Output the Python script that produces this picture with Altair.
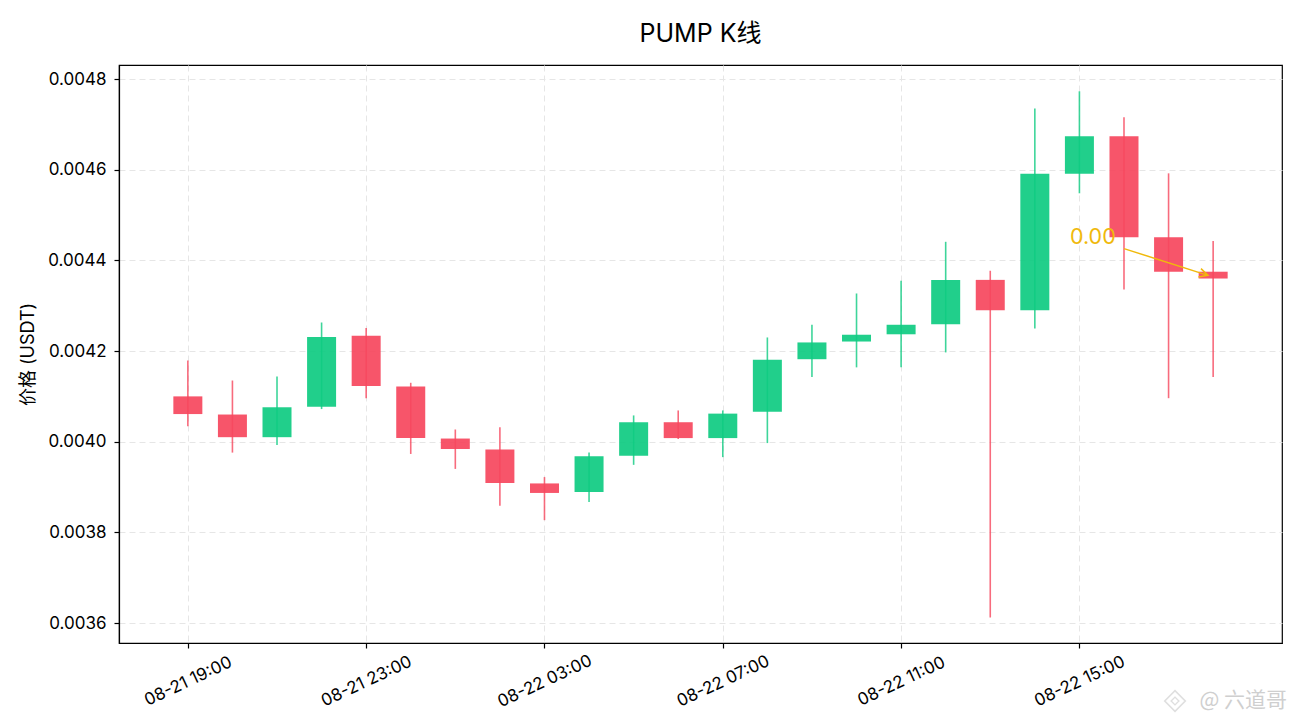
import altair as alt
import pandas as pd

# ---------------- data ----------------
times = [
    "2025-08-21T19:00:00", "2025-08-21T20:00:00", "2025-08-21T21:00:00", "2025-08-21T22:00:00",
    "2025-08-21T23:00:00", "2025-08-22T00:00:00", "2025-08-22T01:00:00", "2025-08-22T02:00:00",
    "2025-08-22T03:00:00", "2025-08-22T04:00:00", "2025-08-22T05:00:00", "2025-08-22T06:00:00",
    "2025-08-22T07:00:00", "2025-08-22T08:00:00", "2025-08-22T09:00:00", "2025-08-22T10:00:00",
    "2025-08-22T11:00:00", "2025-08-22T12:00:00", "2025-08-22T13:00:00", "2025-08-22T14:00:00",
    "2025-08-22T15:00:00", "2025-08-22T16:00:00", "2025-08-22T17:00:00", "2025-08-22T18:00:00",
]
opens = [0.004100, 0.004060, 0.004010, 0.004077, 0.004234, 0.004122, 0.004007, 0.003983,
         0.003908, 0.003889, 0.003969, 0.004043, 0.004008, 0.004066, 0.004182, 0.004221,
         0.004237, 0.004259, 0.004357, 0.004290, 0.004591, 0.004674, 0.004451, 0.004375]
highs = [0.004179, 0.004135, 0.004144, 0.004263, 0.004251, 0.004130, 0.004027, 0.004032,
         0.003922, 0.003976, 0.004058, 0.004069, 0.004069, 0.004230, 0.004258, 0.004327,
         0.004355, 0.004441, 0.004377, 0.004735, 0.004773, 0.004716, 0.004592, 0.004443]
lows = [0.004034, 0.003976, 0.003993, 0.004072, 0.004096, 0.003973, 0.003940, 0.003859,
        0.003827, 0.003867, 0.003949, 0.004006, 0.003966, 0.003997, 0.004143, 0.004164,
        0.004164, 0.004197, 0.003612, 0.004250, 0.004548, 0.004336, 0.004096, 0.004143]
closes = [0.004061, 0.004010, 0.004076, 0.004231, 0.004123, 0.004008, 0.003984, 0.003909,
          0.003887, 0.003968, 0.004043, 0.004008, 0.004062, 0.004181, 0.004219, 0.004236,
          0.004258, 0.004357, 0.004290, 0.004591, 0.004674, 0.004451, 0.004375, 0.004360]

y_ticks = [0.0036, 0.0038, 0.0040, 0.0042, 0.0044, 0.0046, 0.0048]
x_tick_hours = [(21, 19), (21, 23), (22, 3), (22, 7), (22, 11), (22, 15)]

# annotation (text + arrow)
ann_text = "0.00"
ann_text_time = "2025-08-22T15:18:00"
ann_text_price = 0.004449
arrow_start_time = "2025-08-22T16:00:00"
arrow_start_price = 0.004426
arrow_end_time = "2025-08-22T17:53:00"
arrow_end_price = 0.004367

title_text = "PUMP K线"
y_title = "价格 (USDT)"
watermark = "@ 六道哥"

UP = "#0ECB81"
DOWN = "#F6465D"
GOLD = "#F0B90B"
FONT = "Inter, 'Noto Sans CJK SC', sans-serif"

df = pd.DataFrame({"time": times, "open": opens, "high": highs, "low": lows, "close": closes})
df["dir"] = ["up" if c >= o else "down" for o, c in zip(opens, closes)]

x_domain = [alt.DateTime(year=2025, month=8, date=21, hours=17, minutes=27, seconds=20),
            alt.DateTime(year=2025, month=8, date=22, hours=19, minutes=32, seconds=40)]
x_values = [alt.DateTime(year=2025, month=8, date=d, hours=h) for d, h in x_tick_hours]

x_enc = alt.X(
    "time:T",
    scale=alt.Scale(domain=x_domain, padding=0, nice=False),
    axis=alt.Axis(values=x_values, format="%m-%d %H:%M", labelAngle=335, labelAlign="center",
                  labelBaseline="middle", labelPadding=33, title=None, tickSize=5,
                  labelFlush=False, labelOverlap=False, grid=True),
)
y_scale = alt.Scale(domain=[0.003556, 0.004831], nice=False, zero=False, padding=0)
color_enc = alt.Color("dir:N", scale=alt.Scale(domain=["up", "down"], range=[UP, DOWN]), legend=None)

wicks = alt.Chart(df).mark_rule(strokeWidth=1.6, opacity=0.8).encode(
    x=x_enc,
    y=alt.Y("low:Q", scale=y_scale,
            axis=alt.Axis(values=y_ticks, format=".4f", title=y_title, titleFont=FONT,
                          titleFontSize=18, titleFontWeight="normal", titleColor="black",
                          titleAngle=270, titleX=-91, titleY=289, titleAlign="center",
                          titleBaseline="middle", tickSize=5, labelPadding=8,
                          labelFlush=False, grid=True)),
    y2="high:Q",
    color=color_enc,
)

bodies = alt.Chart(df).mark_bar(size=29, opacity=0.92).encode(
    x="time:T",
    y="open:Q",
    y2="close:Q",
    color=color_enc,
)

ann_df = pd.DataFrame({"time": [ann_text_time], "price": [ann_text_price], "label": [ann_text]})
ann = alt.Chart(ann_df).mark_text(font=FONT, fontSize=21.5, color=GOLD, align="center",
                                  baseline="middle").encode(
    x="time:T", y="price:Q", text="label:N")

arrow_df = pd.DataFrame({"time": [arrow_start_time], "time2": [arrow_end_time],
                         "price": [arrow_start_price], "price2": [arrow_end_price]})
shaft = alt.Chart(arrow_df).mark_rule(color=GOLD, strokeWidth=1.5).encode(
    x="time:T", x2="time2:T", y="price:Q", y2="price2:Q")

head_df = pd.DataFrame({"time": [arrow_end_time], "price": [arrow_end_price]})
head = alt.Chart(head_df).mark_point(shape="M -1 -0.5 L 0 0 L -1 0.5", filled=False, size=300,
                                     angle=17.4, color=GOLD, strokeWidth=1.5, opacity=1).encode(
    x="time:T", y="price:Q")

label_df = pd.DataFrame({"title": [title_text], "wm": [watermark]})
title_mark = alt.Chart(label_df).mark_text(font=FONT, fontSize=25, color="black", align="center",
                                           baseline="alphabetic").encode(
    x=alt.value(581.5), y=alt.value(-23), text="title:N")
wm_text = alt.Chart(label_df).mark_text(font="'Noto Sans CJK SC', sans-serif", fontSize=21,
                                        color="#cfcfcf", align="right", baseline="middle").encode(
    x=alt.value(1168), y=alt.value(636), text="wm:N")
wm_logo = alt.Chart(label_df).mark_point(shape="diamond", filled=False, size=420, color="#d2d2d2",
                                         strokeWidth=1.6).encode(x=alt.value(1056), y=alt.value(636))
wm_logo2 = alt.Chart(label_df).mark_point(shape="diamond", filled=False, size=60, color="#d2d2d2",
                                          strokeWidth=1.4).encode(x=alt.value(1056), y=alt.value(636))

chart = alt.layer(wicks, bodies, shaft, head, ann, title_mark, wm_logo, wm_logo2, wm_text).properties(
    width=1163,
    height=578,
    autosize=alt.AutoSizeParams(type="none"),
    padding={"left": 111, "top": 57, "right": 10, "bottom": 75},
    background="white",
).configure_view(
    stroke="black", strokeWidth=1.2
).configure_axis(
    domainColor="black", domainWidth=1.2, tickColor="black", tickWidth=1.2,
    labelFont=FONT, labelFontSize=17, labelColor="black",
    gridColor="#e6e6e6", gridDash=[6, 4], gridWidth=1,
)

chart.save("out.html", embed_options={"renderer": "svg", "actions": False})
